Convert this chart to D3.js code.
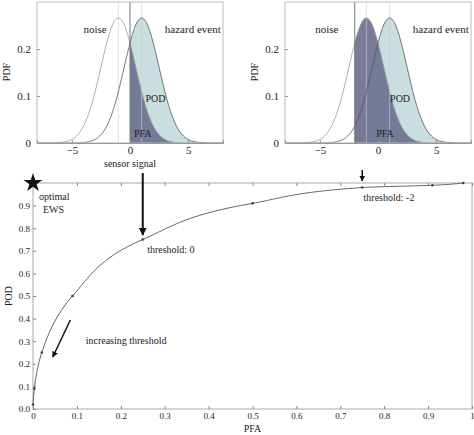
<!DOCTYPE html>
<html><head><meta charset="utf-8">
<script src="https://cdn.jsdelivr.net/npm/d3@7"></script>
<style>body{margin:0;background:#fff}svg text{font-family:"Liberation Serif","Times New Roman","DejaVu Serif",serif !important;fill:#222}</style>
</head><body><div id="content"></div>
<script>
// distributions (mean, sd) of the two PDFs
const noiseMean = -1, hazardMean = 1, sigma = 1.5;
const thresholds = [0, -2];
const pdfTicksX = [-5, 0, 5];
const pdfTicksY = [0, 0.1, 0.2];
// ROC points
const pfa = [0, 0.003, 0.02, 0.09, 0.25, 0.5, 0.75, 0.91, 0.98];
const pod = [0.02, 0.09, 0.25, 0.5, 0.75, 0.91, 0.98, 0.99, 1];
const rocTicksX = [0, 0.1, 0.2, 0.3, 0.4, 0.5, 0.6, 0.7, 0.8, 0.9, 1];
const rocTicksY = [0, 0.1, 0.2, 0.3, 0.4, 0.5, 0.6, 0.7, 0.8, 0.9];

const svg = d3.select("#content").append("svg").attr("width", 474).attr("height", 435);
const defs = svg.append("defs");
defs.append("marker").attr("id", "arr").attr("viewBox", "0 0 10 10").attr("refX", 9).attr("refY", 5)
    .attr("markerWidth", 4).attr("markerHeight", 4).attr("orient", "auto")
    .append("path").attr("d", "M0,0L10,5L0,10z").attr("fill", "#111");

function gauss(x, m) { return Math.exp(-0.5 * ((x - m) / sigma) ** 2) / (sigma * Math.sqrt(2 * Math.PI)); }

function drawPdf(x0, thr, lab) {
    const x = d3.scaleLinear().domain([-8, 8]).range([x0, x0 + 186]);
    const y = d3.scaleLinear().domain([0, 0.3]).range([143, 2]);
    const g = svg.append("g");
    const xs = d3.range(-8, 8.01, 0.1);
    const area = m => d3.area().x(d => x(d)).y0(y(0)).y1(d => y(gauss(d, m)));
    const right = [thr].concat(xs.filter(d => d > thr));
    g.append("path").datum(right).attr("d", area(hazardMean)).attr("fill", "#c9dede");
    g.append("path").datum(right).attr("d", area(noiseMean)).attr("fill", "#6d7191").attr("opacity", 0.92);
    [noiseMean, hazardMean].forEach(m => {
        g.append("line").attr("x1", x(m)).attr("x2", x(m)).attr("y1", y(0)).attr("y2", y(0.3)).attr("stroke", "#ccc").attr("stroke-width", 0.6);
        g.append("path").datum(xs).attr("fill", "none").attr("stroke", m > 0 ? "#555" : "#999").attr("stroke-width", 0.8)
            .attr("d", d3.line().x(d => x(d)).y(d => y(gauss(d, m))));
    });
    g.append("line").attr("x1", x(thr)).attr("x2", x(thr)).attr("y1", y(0)).attr("y2", y(0.3)).attr("stroke", "#777").attr("stroke-width", 1);
    g.append("rect").attr("x", x(-8)).attr("y", y(0.3)).attr("width", x(8) - x(-8)).attr("height", y(0) - y(0.3))
        .attr("fill", "none").attr("stroke", "#bbb");
    g.append("g").attr("transform", `translate(0,${y(0)})`)
        .call(d3.axisBottom(x).tickValues(pdfTicksX).tickSize(-3).tickPadding(3)).call(s => s.select(".domain").attr("stroke", "#999"));
    g.append("g").attr("transform", `translate(${x(-8)},0)`)
        .call(d3.axisLeft(y).tickValues(pdfTicksY).tickFormat(d => d === 0 ? "0" : d).tickSize(-3).tickPadding(6)).call(s => s.select(".domain").remove());
    g.selectAll(".tick text").attr("font-size", 11);
    g.selectAll(".tick line").attr("stroke", "#999");
    g.append("text").attr("x", x(lab[0])).attr("y", 33).attr("font-size", 11).attr("text-anchor", "middle").text("noise");
    g.append("text").attr("x", x(5.4)).attr("y", 33).attr("font-size", 11).attr("text-anchor", "middle").text("hazard event");
    g.append("text").attr("x", x(lab[1])).attr("y", 102).attr("font-size", 10).attr("text-anchor", "middle").text("POD");
    g.append("text").attr("x", x(lab[2])).attr("y", 137).attr("font-size", 10).attr("text-anchor", "middle").text("PFA");
    g.append("text").attr("transform", `translate(${x0 - 27},72) rotate(-90)`).attr("font-size", 10).attr("text-anchor", "middle").text("PDF");
    if (lab[3]) g.append("text").attr("x", x(0)).attr("y", 167).attr("font-size", 10).attr("text-anchor", "middle").text("sensor signal");
    return x;
}
drawPdf(37, thresholds[0], [-3, 2.2, 1.1, true]);
drawPdf(285, thresholds[1], [-4.4, 1.9, 0.6, false]);

// ROC
const x = d3.scaleLinear().domain([0, 1]).range([33, 472]);
const y = d3.scaleLinear().domain([0, 1]).range([409, 183]);
svg.append("rect").attr("x", x(0)).attr("y", y(1)).attr("width", x(1) - x(0)).attr("height", y(0) - y(1)).attr("fill", "none").attr("stroke", "#aaa");
const gx = svg.append("g").attr("transform", `translate(0,${y(0)})`).call(d3.axisBottom(x).tickValues(rocTicksX).tickFormat(d => d === 0 || d === 1 ? d : d.toFixed(1)).tickSize(-3).tickPadding(4));
const gy = svg.append("g").attr("transform", `translate(${x(0)},0)`).call(d3.axisLeft(y).tickValues(rocTicksY).tickSize(-3).tickPadding(3));
[gx, gy].forEach(g => { g.select(".domain").remove(); g.selectAll(".tick line").attr("stroke", "#888"); g.selectAll(".tick text").attr("font-size", 9); });
svg.append("g").attr("transform", `translate(0,${y(1)})`).call(d3.axisBottom(x).tickValues(rocTicksX).tickSize(3).tickFormat("")).call(s => s.select(".domain").remove()).selectAll("line").attr("stroke", "#888");
svg.append("text").attr("x", x(0.5)).attr("y", 432).attr("font-size", 10).attr("text-anchor", "middle").text("PFA");
svg.append("text").attr("transform", `translate(12,${y(0.5)}) rotate(-90)`).attr("font-size", 10).attr("text-anchor", "middle").text("POD");

const pts = pfa.map((p, i) => [p, pod[i]]);
svg.append("path").datum(pts).attr("fill", "none").attr("stroke", "#666").attr("stroke-width", 1)
    .attr("d", d3.line().x(d => x(d[0])).y(d => y(d[1])).curve(d3.curveMonotoneY));
svg.selectAll(".pt").data(pts).join("circle").attr("cx", d => x(d[0])).attr("cy", d => y(d[1])).attr("r", 1.3).attr("fill", "#444");

svg.append("path").attr("d", d3.symbol(d3.symbolStar, 110)()).attr("transform", `translate(${x(0)},${y(1)})`).attr("fill", "#111");
svg.append("text").attr("x", 39).attr("y", 200).attr("font-size", 10).text("optimal");
svg.append("text").attr("x", 43).attr("y", 213).attr("font-size", 10).text("EWS");
svg.append("text").attr("x", x(0.26)).attr("y", 253).attr("font-size", 10).text("threshold: 0");
svg.append("text").attr("x", x(0.753)).attr("y", 201).attr("font-size", 10).text("threshold: -2");
svg.append("text").attr("x", x(0.12)).attr("y", 344).attr("font-size", 10).text("increasing threshold");

const arrow = (a, b, c, d, w) => svg.append("line").attr("x1", a).attr("y1", b).attr("x2", c).attr("y2", d)
    .attr("stroke", "#111").attr("stroke-width", w).attr("marker-end", "url(#arr)");
arrow(x(0.25), 173, x(0.25), 235, 2);
arrow(x(0.75), 170, x(0.75), 181, 1.5);
arrow(x(0.085), 320, x(0.045), 357, 1.5);
</script></body></html>
